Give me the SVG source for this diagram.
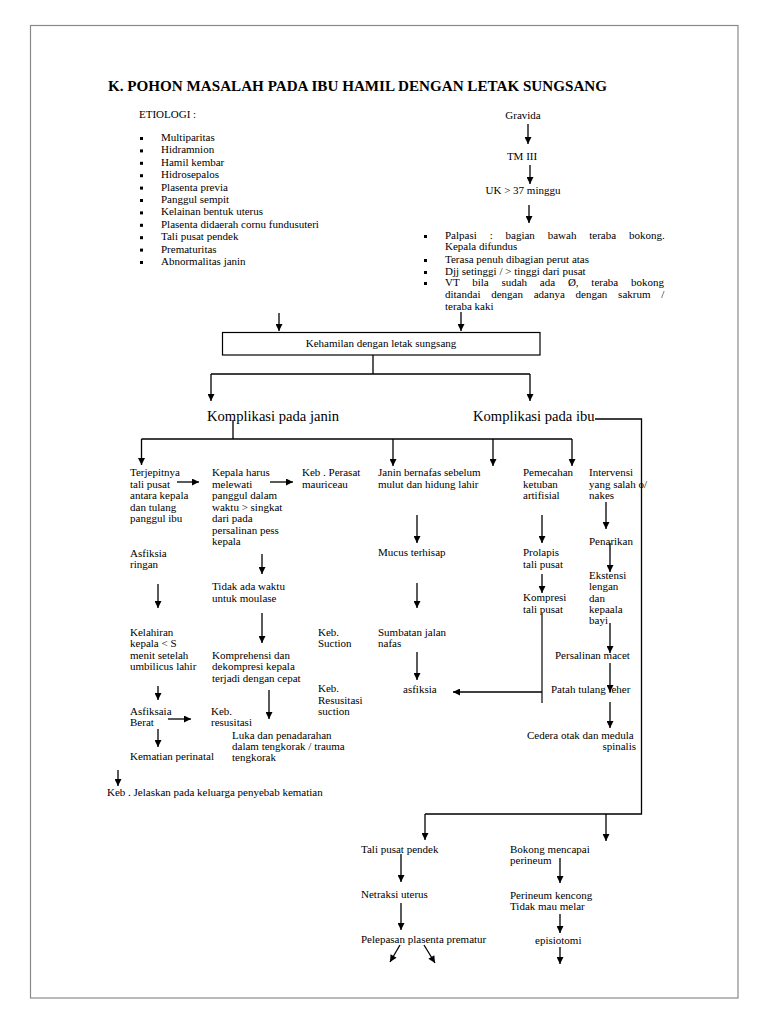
<svg xmlns="http://www.w3.org/2000/svg" width="768" height="1024" viewBox="0 0 768 1024">
<style>
text{font-family:"Liberation Serif","Times New Roman",serif;fill:#000}
.t{font-size:11px}
.big{font-size:14.6px}
.title{font-size:14px;font-weight:bold}
.ln{stroke:#000;stroke-width:1.3;fill:none}
.ar{stroke:#000;stroke-width:1.3;fill:none;marker-end:url(#ah)}
.bul{fill:#000}
</style>
<defs>
<marker id="ah" viewBox="0 0 10 10" refX="10" refY="5" markerUnits="userSpaceOnUse" markerWidth="9" markerHeight="7" orient="auto">
<path d="M0,0 L10,5 L0,10 z" fill="#000"/>
</marker>
</defs>
<rect x="0" y="0" width="768" height="1024" fill="#fff"/>
<rect x="30.5" y="25.5" width="707.5" height="972.5" fill="none" stroke="#8a8a8a" stroke-width="1.2"/>

<g id="title"><text class="title" x="108" y="91" textLength="499" lengthAdjust="spacingAndGlyphs">K.  POHON MASALAH PADA IBU HAMIL DENGAN LETAK SUNGSANG</text></g>

<g id="etiologi">
<text class="t" x="139" y="118">ETIOLOGI :</text>
<g class="bul">
<rect x="140" y="137" width="3" height="3"/><rect x="140" y="149.4" width="3" height="3"/><rect x="140" y="161.8" width="3" height="3"/><rect x="140" y="174.2" width="3" height="3"/><rect x="140" y="186.6" width="3" height="3"/><rect x="140" y="199" width="3" height="3"/><rect x="140" y="211.4" width="3" height="3"/><rect x="140" y="223.8" width="3" height="3"/><rect x="140" y="236.2" width="3" height="3"/><rect x="140" y="248.6" width="3" height="3"/><rect x="140" y="261" width="3" height="3"/>
</g>
<text class="t">
<tspan x="161" y="141">Multiparitas</tspan>
<tspan x="161" y="153.4">Hidramnion</tspan>
<tspan x="161" y="165.8">Hamil kembar</tspan>
<tspan x="161" y="178.2">Hidrosepalos</tspan>
<tspan x="161" y="190.6">Plasenta previa</tspan>
<tspan x="161" y="203">Panggul sempit</tspan>
<tspan x="161" y="215.4">Kelainan bentuk uterus</tspan>
<tspan x="161" y="227.8">Plasenta didaerah cornu fundusuteri</tspan>
<tspan x="161" y="240.2">Tali pusat pendek</tspan>
<tspan x="161" y="252.6">Prematuritas</tspan>
<tspan x="161" y="265">Abnormalitas janin</tspan>
</text>
</g>

<g id="gravida"><text class="t" x="523" y="119" text-anchor="middle">Gravida</text></g>
<g id="tm3"><text class="t" x="522" y="160" text-anchor="middle">TM III</text></g>
<g id="uk"><text class="t" x="523" y="194" text-anchor="middle">UK &gt; 37 minggu</text></g>

<g id="tanda">
<g class="bul">
<rect x="424" y="235" width="3" height="3"/><rect x="424" y="259" width="3" height="3"/><rect x="424" y="271" width="3" height="3"/><rect x="424" y="282" width="3" height="3"/>
</g>
<text class="t" x="445" y="239" word-spacing="10.1">Palpasi : bagian bawah teraba bokong.</text>
<text class="t" x="445" y="250">Kepala difundus</text>
<text class="t" x="445" y="263">Terasa penuh dibagian perut atas</text>
<text class="t" x="445" y="275">Djj setinggi / &gt; tinggi dari pusat</text>
<text class="t" x="445" y="286" word-spacing="10">VT bila sudah ada Ø, teraba bokong</text>
<text class="t" x="445" y="298" word-spacing="8">ditandai dengan adanya dengan sakrum /</text>
<text class="t" x="445" y="310">teraba kaki</text>
</g>

<g id="kehamilan">
<rect x="222.5" y="332.5" width="317.5" height="22.5" fill="#fff" stroke="#000" stroke-width="1.2"/>
<text class="t" x="381" y="347" text-anchor="middle">Kehamilan dengan letak sungsang</text>
</g>

<g id="komp-janin"><text class="big" x="207" y="421">Komplikasi pada janin</text></g>
<g id="komp-ibu"><text class="big" x="473" y="421">Komplikasi pada ibu</text></g>

<g id="n-terjepit"><text class="t"><tspan x="130" y="476">Terjepitnya</tspan><tspan x="130" y="487.5">tali pusat</tspan><tspan x="130" y="499">antara kepala</tspan><tspan x="130" y="510.5">dan tulang</tspan><tspan x="130" y="522">panggul ibu</tspan></text></g>
<g id="n-kepala"><text class="t"><tspan x="212" y="476">Kepala harus</tspan><tspan x="212" y="487.5">melewati</tspan><tspan x="212" y="499">panggul dalam</tspan><tspan x="212" y="510.5">waktu &gt; singkat</tspan><tspan x="212" y="522">dari pada</tspan><tspan x="212" y="533.5">persalinan pess</tspan><tspan x="212" y="545">kepala</tspan></text></g>
<g id="n-perasat"><text class="t"><tspan x="302" y="476">Keb . Perasat</tspan><tspan x="302" y="487.5">mauriceau</tspan></text></g>
<g id="n-asf-ringan"><text class="t"><tspan x="130" y="557">Asfiksia</tspan><tspan x="130" y="568">ringan</tspan></text></g>
<g id="n-tidak"><text class="t"><tspan x="212" y="590">Tidak ada waktu</tspan><tspan x="212" y="601.5">untuk moulase</tspan></text></g>
<g id="n-kelahiran"><text class="t"><tspan x="130" y="636">Kelahiran</tspan><tspan x="130" y="647">kepala &lt; S</tspan><tspan x="130" y="658.5">menit setelah</tspan><tspan x="130" y="670">umbilicus lahir</tspan></text></g>
<g id="n-kompreh"><text class="t"><tspan x="212" y="658.5">Komprehensi dan</tspan><tspan x="212" y="670">dekompresi kepala</tspan><tspan x="212" y="681.5">terjadi dengan cepat</tspan></text></g>
<g id="n-suction"><text class="t"><tspan x="318" y="636">Keb.</tspan><tspan x="318" y="647">Suction</tspan></text></g>
<g id="n-resus-suction"><text class="t"><tspan x="318" y="692">Keb.</tspan><tspan x="318" y="703.5">Resusitasi</tspan><tspan x="318" y="715">suction</tspan></text></g>
<g id="n-asf-berat"><text class="t"><tspan x="130" y="715">Asfiksaia</tspan><tspan x="130" y="726">Berat</tspan></text></g>
<g id="n-resus"><text class="t"><tspan x="211" y="715">Keb.</tspan><tspan x="211" y="726">resusitasi</tspan></text></g>
<g id="n-luka"><text class="t"><tspan x="232" y="738.5">Luka dan penadarahan</tspan><tspan x="232" y="750">dalam tengkorak / trauma</tspan><tspan x="232" y="761">tengkorak</tspan></text></g>
<g id="n-kematian"><text class="t" x="130" y="760">Kematian perinatal</text></g>
<g id="n-jelaskan"><text class="t" x="107" y="796">Keb . Jelaskan pada keluarga penyebab  kematian</text></g>

<g id="n-janin-nafas"><text class="t"><tspan x="378" y="476">Janin bernafas sebelum</tspan><tspan x="378" y="487.5">mulut dan hidung lahir</tspan></text></g>
<g id="n-mucus"><text class="t" x="378" y="556">Mucus terhisap</text></g>
<g id="n-sumbatan"><text class="t"><tspan x="378" y="636">Sumbatan jalan</tspan><tspan x="378" y="647">nafas</tspan></text></g>
<g id="n-asfiksia"><text class="t" x="403" y="693">asfiksia</text></g>

<g id="n-pemecahan"><text class="t"><tspan x="523" y="476">Pemecahan</tspan><tspan x="523" y="487.5">ketuban</tspan><tspan x="523" y="499">artifisial</tspan></text></g>
<g id="n-prolapis"><text class="t"><tspan x="523" y="556">Prolapis</tspan><tspan x="523" y="567.5">tali pusat</tspan></text></g>
<g id="n-kompresi"><text class="t"><tspan x="523" y="601">Kompresi</tspan><tspan x="523" y="612.5">tali pusat</tspan></text></g>

<g id="n-intervensi"><text class="t"><tspan x="589" y="476">Intervensi</tspan><tspan x="589" y="487.5">yang salah o/</tspan><tspan x="589" y="499">nakes</tspan></text></g>
<g id="n-penarikan"><text class="t" x="589" y="544.5">Penarikan</text></g>
<g id="n-ekstensi"><text class="t"><tspan x="589" y="578.5">Ekstensi</tspan><tspan x="589" y="590">lengan</tspan><tspan x="589" y="601.5">dan</tspan><tspan x="589" y="613">kepaala</tspan><tspan x="589" y="624">bayi</tspan></text></g>
<g id="n-macet"><text class="t" x="555" y="658.5">Persalinan macet</text></g>
<g id="n-patah"><text class="t" x="551" y="693">Patah tulang leher</text></g>
<g id="n-cedera"><text class="t"><tspan x="527" y="738.5">Cedera otak dan medula</tspan><tspan x="636" y="749.5" text-anchor="end">spinalis</tspan></text></g>

<g id="n-talipusat"><text class="t" x="361" y="853">Tali pusat pendek</text></g>
<g id="n-netraksi"><text class="t" x="361" y="897.5">Netraksi uterus</text></g>
<g id="n-pelepasan"><text class="t" x="361" y="943">Pelepasan plasenta prematur</text></g>
<g id="n-bokong"><text class="t"><tspan x="510" y="853">Bokong mencapai</tspan><tspan x="510" y="864">perineum</tspan></text></g>
<g id="n-perineum"><text class="t"><tspan x="510" y="898.5">Perineum kencong</tspan><tspan x="510" y="909.5">Tidak mau melar</tspan></text></g>
<g id="n-episiotomi"><text class="t" x="535" y="944">episiotomi</text></g>

<g id="connectors">
<line class="ar" x1="528" y1="124" x2="528" y2="144"/>
<line class="ar" x1="530" y1="165" x2="530" y2="184"/>
<line class="ar" x1="529" y1="205" x2="529" y2="223"/>
<line class="ar" x1="279" y1="313" x2="279" y2="331"/>
<line class="ar" x1="461" y1="312" x2="461" y2="331"/>
<polyline class="ln" points="373,355 373,374"/>
<polyline class="ln" points="211,374 530,374"/>
<line class="ar" x1="211" y1="374" x2="211" y2="401"/>
<line class="ar" x1="530" y1="374" x2="530" y2="401"/>
<polyline class="ln" points="595,419 641.5,419 641.5,814 425,814"/>
<line class="ar" x1="425" y1="814" x2="425" y2="840"/>
<line class="ar" x1="606" y1="814" x2="606" y2="841"/>
<line class="ln" x1="233" y1="420" x2="233" y2="439"/>
<line class="ln" x1="141.5" y1="439" x2="572" y2="439"/>
<line class="ar" x1="141.5" y1="439" x2="141.5" y2="465"/>
<line class="ar" x1="393" y1="439" x2="393" y2="466"/>
<line class="ar" x1="493" y1="439" x2="493" y2="466"/>
<line class="ar" x1="572" y1="439" x2="572" y2="466"/>
<line class="ar" x1="177" y1="482" x2="199" y2="482"/>
<line class="ar" x1="270" y1="482" x2="293" y2="482"/>
<line class="ar" x1="262" y1="554" x2="262" y2="574"/>
<line class="ar" x1="158" y1="584" x2="158" y2="608"/>
<line class="ar" x1="262" y1="613" x2="262" y2="643"/>
<line class="ar" x1="158" y1="686" x2="158" y2="700"/>
<line class="ar" x1="168" y1="719" x2="191" y2="719"/>
<line class="ar" x1="269" y1="690" x2="269" y2="719"/>
<line class="ar" x1="158" y1="729" x2="158" y2="747"/>
<line class="ar" x1="118" y1="770" x2="118" y2="786"/>
<line class="ar" x1="417" y1="515" x2="417" y2="543"/>
<line class="ar" x1="417" y1="583" x2="417" y2="608"/>
<line class="ar" x1="417" y1="652" x2="417" y2="680"/>
<line class="ar" x1="542" y1="515" x2="542" y2="543"/>
<line class="ar" x1="542" y1="574" x2="542" y2="593"/>
<line x1="542" y1="613" x2="542" y2="703" stroke="#444" stroke-width="1.6"/>
<line class="ar" x1="542" y1="692" x2="453" y2="692"/>
<line class="ar" x1="606" y1="502" x2="606" y2="529"/>
<line class="ar" x1="610" y1="543" x2="610" y2="572"/>
<line class="ar" x1="610" y1="623" x2="610" y2="653"/>
<line class="ar" x1="610" y1="663" x2="610" y2="692"/>
<line class="ar" x1="610" y1="702" x2="610" y2="728"/>
<line class="ar" x1="401" y1="854" x2="401" y2="882"/>
<line class="ar" x1="401" y1="903" x2="401" y2="930"/>
<line class="ar" x1="400" y1="945" x2="390" y2="962"/>
<line class="ar" x1="424" y1="945" x2="435" y2="963"/>
<line class="ar" x1="560" y1="858" x2="560" y2="883"/>
<line class="ar" x1="560" y1="914" x2="560" y2="933"/>
<line class="ar" x1="560" y1="947" x2="560" y2="964"/>
</g>
</svg>
